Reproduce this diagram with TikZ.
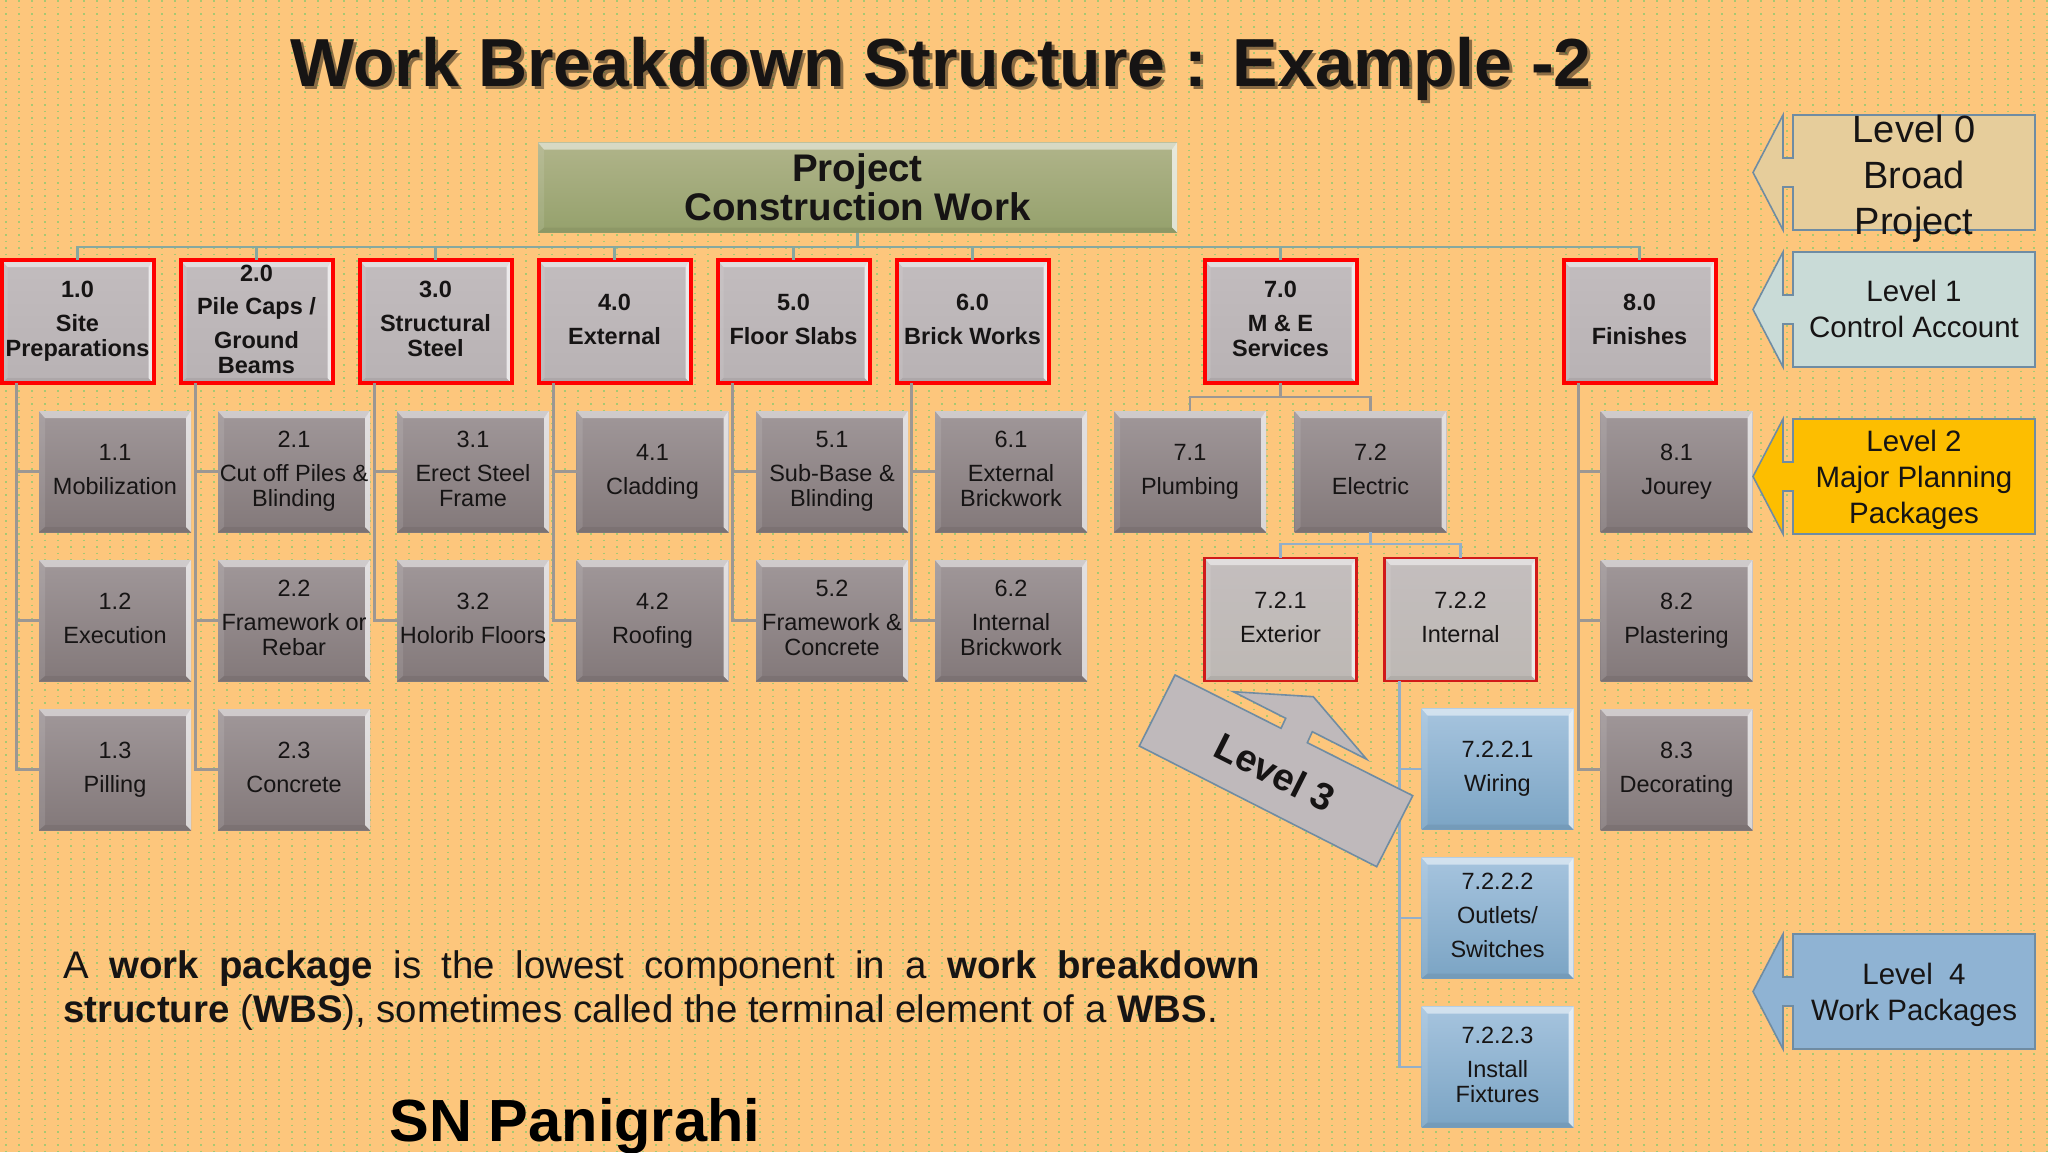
\documentclass[tikz,border=0pt]{standalone}
\usepackage{fontspec}
\setmainfont{Liberation Sans}
\usetikzlibrary{positioning}

\definecolor{sand}{HTML}{FDC67C}
\definecolor{speck}{HTML}{A8C872}
\definecolor{inktext}{HTML}{161414}
\definecolor{stemgrey}{HTML}{9C9793}
\definecolor{stemblue}{HTML}{93AFC9}
\definecolor{stemteal}{HTML}{86A8A0}
\definecolor{flagline}{HTML}{6F8CA3}
\definecolor{roottop}{HTML}{B0B48A}
\definecolor{rootlow}{HTML}{95A16C}
\definecolor{headtop}{HTML}{C2BCBE}
\definecolor{headlow}{HTML}{B8B2B4}
\definecolor{greytop}{HTML}{A09799}
\definecolor{greylow}{HTML}{83797A}
\definecolor{paletop}{HTML}{C4BEBE}
\definecolor{palelow}{HTML}{BDB8B4}
\definecolor{bluetop}{HTML}{A6C4DE}
\definecolor{bluelow}{HTML}{7BA4C4}
\definecolor{tagfill}{HTML}{BFB9BB}
\definecolor{flagzero}{HTML}{E6CD9B}
\definecolor{flagone}{HTML}{C9DBD7}
\definecolor{flagtwo}{HTML}{FDBE00}
\definecolor{flagfour}{HTML}{8FB3D3}

\newcommand{\boxstrut}{\rule[-5pt]{0pt}{33pt}}

\tikzset{
  bevel/.style={path picture={
    \fill[white,opacity=.5] (path picture bounding box.north west) -- (path picture bounding box.north east)
      -- ([xshift=-5pt,yshift=-7pt]path picture bounding box.north east) -- ([xshift=6pt,yshift=-7pt]path picture bounding box.north west) -- cycle;
    \fill[white,opacity=.7] (path picture bounding box.north east) -- (path picture bounding box.south east)
      -- ([xshift=-5pt,yshift=5pt]path picture bounding box.south east) -- ([xshift=-5pt,yshift=-7pt]path picture bounding box.north east) -- cycle;
    \fill[white,opacity=.1] (path picture bounding box.north west) -- (path picture bounding box.south west)
      -- ([xshift=6pt,yshift=5pt]path picture bounding box.south west) -- ([xshift=6pt,yshift=-7pt]path picture bounding box.north west) -- cycle;
    \fill[black,opacity=.06] (path picture bounding box.south west) -- (path picture bounding box.south east)
      -- ([xshift=-5pt,yshift=5pt]path picture bounding box.south east) -- ([xshift=6pt,yshift=5pt]path picture bounding box.south west) -- cycle;
  }},
  wbsbox/.style={bevel, align=center, inner sep=0pt, outer sep=0pt, text=inktext,
    minimum width=152pt, font=\fontsize{23.5}{25}\selectfont},
  struts/.style={inner ysep=-3pt, execute at begin node=\boxstrut, execute at end node=\boxstrut},
  rootbox/.style={wbsbox, minimum width=639pt, minimum height=90pt,
    top color=roottop, bottom color=rootlow, font=\fontsize{38.5}{39}\selectfont\bfseries},
  headbox/.style={wbsbox, struts, minimum height=123pt, draw=red, line width=4pt,
    top color=headtop, bottom color=headlow, font=\fontsize{23.5}{25}\selectfont\bfseries},
  greybox/.style={wbsbox, struts, minimum height=121pt, top color=greytop, bottom color=greylow},
  paleredbox/.style={wbsbox, struts, minimum height=123pt, draw=red!80!black!90, line width=2.5pt,
    top color=paletop, bottom color=palelow},
  bluebox/.style={wbsbox, struts, minimum height=121pt, top color=bluetop, bottom color=bluelow},
  stem/.style={stemgrey, line width=2.6pt},
  bluestem/.style={stemblue, line width=2.6pt},
  flag/.style={flagline, line width=1.6pt, line join=miter},
  flagtext/.style={align=center, inner sep=0pt, text=inktext, font=\fontsize{29.5}{36}\selectfont},
  flagbig/.style={flagtext, yshift=-3pt, font=\fontsize{38}{46}\selectfont},
}

% name, top edge, fill, text style, text
\newcommand{\levelflag}[5]{%
  \draw[flag, fill=#3] (2035,#2) -- (1793,#2) -- (1793,#2+43) -- (1783,#2+43) -- (1783,#2) -- (1753,#2+57.5)
    -- (1783,#2+115) -- (1783,#2+72) -- (1793,#2+72) -- (1793,#2+115) -- (2035,#2+115) -- cycle;
  \node[#4] (#1) at (1914,#2+60.5) {#5};
}

\begin{document}
\begin{tikzpicture}[x=1pt, y=-1pt]
    \useasboundingbox (0,0) rectangle (2048,1152);

    % backdrop
    \fill[sand] (0,0) rectangle (2048,1152);
    \foreach \c in {0,...,157}
        \draw[speck, line width=1.5pt, dash pattern=on 1.5pt off 5pt] ({6+13*\c},0) -- ++(0,1152);

    % title
    \node[black, opacity=.45, font=\fontsize{68}{68}\selectfont\bfseries] (shade) at (944,72) {Work Breakdown Structure : Example -2};
    \node[text=inktext, font=\fontsize{68}{68}\selectfont\bfseries] (title) at (941,69) {Work Breakdown Structure : Example -2};

    % root
    \node[rootbox] (proj) at (857.5,187.5) {Project\\Construction Work};
    \coordinate[below=14.5pt of proj] (trunk);

    % control accounts
    \node[headbox] (w1) at (77.5,321.5) {1.0\\[9pt]Site\\Preparations};
    \node[headbox, right=27pt of w1] (w2) {2.0\\[8pt]Pile Caps /\\[9pt]Ground\\Beams};
    \node[headbox, right=27pt of w2] (w3) {3.0\\[9pt]Structural\\Steel};
    \node[headbox, right=27pt of w3] (w4) {4.0\\[9pt]External};
    \node[headbox, right=27pt of w4] (w5) {5.0\\[9pt]Floor Slabs};
    \node[headbox, right=27pt of w5] (w6) {6.0\\[9pt]Brick Works};
    \node[headbox, right=156pt of w6] (w7) {7.0\\[9pt]M \& E\\Services};
    \node[headbox, right=207pt of w7] (w8) {8.0\\[9pt]Finishes};

    % planning packages
    \node[greybox, below=28pt of w1, xshift=37.5pt] (w11) {1.1\\[9pt]Mobilization};
    \node[greybox, below=28pt of w11] (w12) {1.2\\[9pt]Execution};
    \node[greybox, below=28pt of w12] (w13) {1.3\\[9pt]Pilling};

    \node[greybox, below=28pt of w2, xshift=37.5pt] (w21) {2.1\\[9pt]Cut off Piles \&\\Blinding};
    \node[greybox, below=28pt of w21] (w22) {2.2\\[9pt]Framework or\\Rebar};
    \node[greybox, below=28pt of w22] (w23) {2.3\\[9pt]Concrete};

    \node[greybox, below=28pt of w3, xshift=37.5pt] (w31) {3.1\\[9pt]Erect Steel\\Frame};
    \node[greybox, below=28pt of w31] (w32) {3.2\\[9pt]Holorib Floors};

    \node[greybox, below=28pt of w4, xshift=38pt] (w41) {4.1\\[9pt]Cladding};
    \node[greybox, below=28pt of w41] (w42) {4.2\\[9pt]Roofing};

    \node[greybox, below=28pt of w5, xshift=38.5pt] (w51) {5.1\\[9pt]Sub-Base \&\\Blinding};
    \node[greybox, below=28pt of w51] (w52) {5.2\\[9pt]Framework \&\\Concrete};

    \node[greybox, below=28pt of w6, xshift=38.5pt] (w61) {6.1\\[9pt]External\\Brickwork};
    \node[greybox, below=28pt of w61] (w62) {6.2\\[9pt]Internal\\Brickwork};

    \node[greybox, below=28pt of w7, xshift=-90.5pt] (w71) {7.1\\[9pt]Plumbing};
    \node[greybox, right=28.5pt of w71] (w72) {7.2\\[9pt]Electric};
    \node[paleredbox, below=26pt of w72, xshift=-90pt] (w721) {7.2.1\\[9pt]Exterior};
    \node[paleredbox, right=28pt of w721] (w722) {7.2.2\\[9pt]Internal};
    \node[bluebox, below=27.5pt of w722, xshift=37pt] (w7221) {7.2.2.1\\[9pt]Wiring};
    \node[bluebox, below=28pt of w7221] (w7222) {7.2.2.2\\[9pt]Outlets/\\[9pt]Switches};
    \node[bluebox, below=28pt of w7222] (w7223) {7.2.2.3\\[9pt]Install\\Fixtures};

    \node[greybox, below=28pt of w8, xshift=37pt] (w81) {8.1\\[9pt]Jourey};
    \node[greybox, below=28pt of w81] (w82) {8.2\\[9pt]Plastering};
    \node[greybox, below=28pt of w82] (w83) {8.3\\[9pt]Decorating};

    % connectors
    \draw[stemteal, line width=3.2pt] (proj.south) -- (trunk);
    \foreach \n in {1,...,8}
        \draw[stemteal, line width=2.6pt] (trunk) -| (w\n.north);
    \foreach \up/\down in {w1/w11,w1/w12,w1/w13,w2/w21,w2/w22,w2/w23,w3/w31,w3/w32,
                           w4/w41,w4/w42,w5/w51,w5/w52,w6/w61,w6/w62,w8/w81,w8/w82,w8/w83}
        \draw[stem] ([xshift=-61pt]\up.south) |- (\down.west);
    \foreach \down in {w7221,w7222,w7223}
        \draw[bluestem] ([xshift=-61pt]w722.south) |- (\down.west);
    \coordinate[below=14pt of w7] (fork7);
    \coordinate[below=12pt of w72] (fork72);
    \draw[stem] (w7.south) -- (fork7);
    \draw[stem] (fork7) -| (w71.north);
    \draw[stem] (fork7) -| (w72.north);
    \draw[bluestem] (w72.south) -- (fork72);
    \draw[bluestem] (fork72) -| (w721.north);
    \draw[bluestem] (fork72) -| (w722.north);

    % level 3 tag
    \draw[flag, fill=tagfill] (1175,675) -- (1281,728.3) -- (1285.7,718.3) -- (1233.3,691.7) -- (1313.3,696.7) -- (1366.7,759.3)
        -- (1312.3,731.7) -- (1307.3,742.7) -- (1412.7,795.7) -- (1376.7,866.7) -- (1139.3,746) -- cycle;
    \node[rotate=-26.7, text=inktext, font=\fontsize{38}{38}\selectfont\bfseries] (lvl3) at (1275,772) {Level 3};

    % level legend
    \levelflag{lvl0}{115}{flagzero}{flagbig}{Level 0\\Broad\\Project}
    \levelflag{lvl1}{252}{flagone}{flagtext, yshift=3.5pt}{Level 1\\Control Account}
    \levelflag{lvl2}{419}{flagtwo}{flagtext}{Level 2\\Major Planning\\Packages}
    \levelflag{lvl4}{934}{flagfour}{flagtext}{Level\ \ 4\\Work Packages}

    % notes
    \node[anchor=north west, inner sep=0pt, text width=1197pt, align=justify, text=inktext,
          font=\fontsize{38.4}{44}\selectfont] (note) at (63,950)
        {A \textbf{work package} is the lowest component in a \textbf{work breakdown \mbox{structure}} (\textbf{WBS}), sometimes called the terminal element of a \textbf{WBS}.};
    \node[text=black, font=\fontsize{59.5}{60}\selectfont\bfseries] (byline) at (575,1126) {SN Panigrahi};
\end{tikzpicture}
\end{document}
